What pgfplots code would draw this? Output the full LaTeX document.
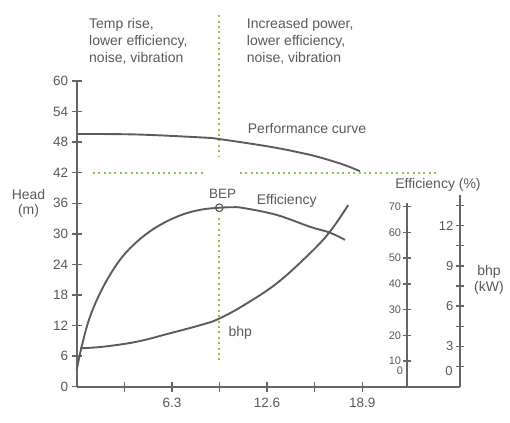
\documentclass[border=0pt]{standalone}
\usepackage{pgfplots}
\pgfplotsset{compat=1.18}
\usepackage{fontspec}
\setmainfont{Liberation Sans}

\definecolor{txt}{RGB}{88,89,91}
\definecolor{axc}{RGB}{102,102,104}
\definecolor{crv}{RGB}{92,92,94}
\definecolor{grn}{RGB}{141,198,63}

\pgfplotsset{
  base/.style={scale only axis, at={(0pt,0pt)}, anchor=south west, clip=false,
    /pgf/number format/assume math mode=true},
  over/.style={base, width=383.3pt, height=305.7pt, xmin=0, xmax=25.37,
    axis lines=none, xtick=\empty, ytick=\empty},
  sideaxis/.style={base, width=10pt, xmin=0, xmax=1, ymin=0,
    axis y line=left, hide x axis,
    y axis line style={opacity=0},
    ytick style={line width=1.4pt, draw=axc},
    tick align=outside, major tick length=8pt,
    yticklabel style={text=txt, inner sep=1.5pt}},
  crvstyle/.style={crv, line width=1.9pt, smooth, tension=0.6, mark=none},
  dots/.style={grn, line width=2pt, dash pattern=on 2pt off 3.4pt, mark=none},
  spine/.style={axc, line width=2pt, mark=none},
}

\begin{document}
\begin{tikzpicture}
% main head axis
\begin{axis}[base, width=383.3pt, height=305.7pt,
  xmin=0, xmax=25.37, ymin=0, ymax=60,
  axis x line=bottom, axis y line=left,
  axis line style={-, line width=2pt, draw=axc},
  tick style={line width=1.5pt, draw=axc},
  tick align=center, major tick length=10pt,
  xtick={3.15,6.3,9.45,12.6,15.75,18.9},
  xticklabels={,6.3,,12.6,,18.9},
  ytick={0,6,...,60},
  ticklabel style={font=\fontsize{13.5}{16}\selectfont, text=txt},
  xticklabel style={yshift=-3pt},
]
\addplot[dots] coordinates {(9.45,72.9) (9.45,45.3)};
\addplot[dots] coordinates {(9.45,33.1) (9.45,5.2)};
\addplot[dots] coordinates {(1.06,41.9) (8.48,41.9)};
\addplot[dots] coordinates {(10.8,41.9) (23.8,41.9)};
\addplot[crvstyle] coordinates {
  (0,49.6) (4,49.5) (8.38,48.9) (9.44,48.6) (12.79,47.1)
  (15.0,45.8) (16.1,45.0) (17.64,43.6) (18.75,42.3)};
% spines of the efficiency and bhp scales
\addplot[spine] coordinates {(21.84,0) (21.84,36.05)};
\addplot[spine] coordinates {(25.37,0) (25.37,37.6)};
\end{axis}

% efficiency curve (%)
\begin{axis}[over, ymin=0, ymax=118.9]
\addplot[crvstyle] coordinates {
  (0,6.5) (0.33,15.6) (0.88,27.2) (1.76,38.9) (2.86,49.3) (3.97,56.3)
  (5.07,61.3) (6.17,64.9) (7.28,67.5) (8.38,69.0) (9.44,69.6) (10.3,69.8)
  (11.03,69.5) (13.24,66.8) (15.44,62.2) (16.76,59.9) (17.76,57.1)};
\addplot[only marks, mark=o, mark size=3.8pt, crv, line width=1.2pt,
  mark options={fill=white}] coordinates {(9.44,69.6)};
\end{axis}

% bhp curve (kW)
\begin{axis}[over, ymin=0, ymax=22.78]
\addplot[crvstyle] coordinates {
  (0.22,2.86) (1.76,2.98) (3.97,3.35) (6.17,3.98) (8.38,4.65) (9.44,5.08)
  (11.03,6.05) (13.24,7.70) (15.44,9.94) (16.76,11.55) (17.97,13.53)};
\end{axis}

% efficiency scale
\begin{axis}[sideaxis, at={(334pt,0pt)}, height=183.8pt, ymax=71.5,
  ytick={10,20,...,70},
  yticklabel style={font=\fontsize{11}{13}\selectfont}]
\end{axis}

% bhp scale
\begin{axis}[sideaxis, at={(387.3pt,0pt)}, height=191.7pt, ymax=14.28,
  ytick={1.5,3,...,13.5},
  yticklabels={,3,,6,,9,,12,},
  yticklabel style={font=\fontsize{13}{15}\selectfont, inner sep=2.5pt}]
\end{axis}

\begin{scope}[every node/.style={text=txt, inner sep=0pt}]
\node[anchor=north west, align=left, font=\fontsize{14}{17}\selectfont]
  at (12.3pt,368.4pt) {Temp rise,\\lower efficiency,\\noise, vibration};
\node[anchor=north west, align=left, font=\fontsize{14}{17}\selectfont]
  at (170pt,368.4pt) {Increased power,\\lower efficiency,\\noise, vibration};
\node[anchor=base west, font=\fontsize{14}{17}\selectfont] at (171pt,252.7pt) {Performance curve};
\node[anchor=base, font=\fontsize{13.5}{16}\selectfont] at (146pt,188.4pt) {BEP};
\node[anchor=base west, font=\fontsize{14}{17}\selectfont] at (180pt,181.7pt) {Efficiency};
\node[anchor=base west, font=\fontsize{14}{17}\selectfont] at (151.6pt,50pt) {bhp};
\node[anchor=base, align=center, font=\fontsize{14}{15}\selectfont] at (-48.2pt,171.7pt) {Head\\(m)};
\node[anchor=base, font=\fontsize{14}{17}\selectfont] at (361.3pt,198.4pt) {Efficiency (\%)};
\node[anchor=base, align=center, font=\fontsize{14}{16.6}\selectfont] at (412.3pt,95pt) {bhp\\(kW)};
\node[font=\fontsize{11}{13}\selectfont] at (323.3pt,15.7pt) {0};
\node[font=\fontsize{13}{15}\selectfont] at (372.3pt,15.7pt) {0};
\end{scope}

\pgfresetboundingbox
\path (-76.7pt,-35.3pt) rectangle (433.3pt,386.7pt);
\end{tikzpicture}
\end{document}
